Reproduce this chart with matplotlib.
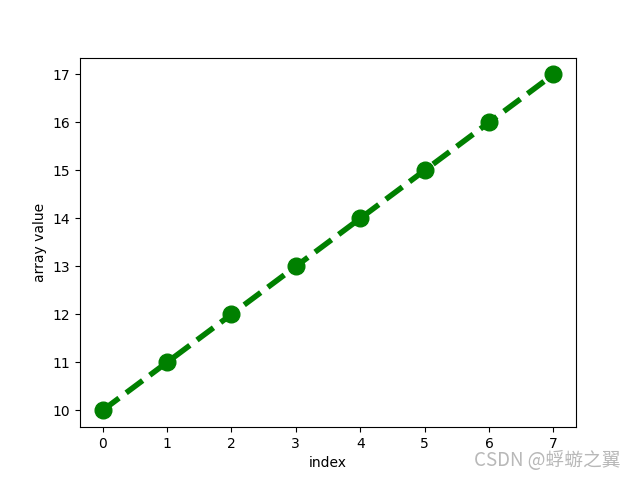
import matplotlib
matplotlib.use('Agg')
import matplotlib.pyplot as plt

index = [0, 1, 2, 3, 4, 5, 6, 7]
values = [10, 11, 12, 13, 14, 15, 16, 17]

fig = plt.figure(figsize=(6.4, 4.8), dpi=100)
plt.plot(index, values, color='green', linestyle='--', linewidth=4,
         marker='o', markersize=12)
plt.xlabel('index')
plt.ylabel('array value')

# watermark
fig.text(0.97, 0.04, 'CSDN @蜉蝣之翼', ha='right', va='center', fontsize=13.5,
         color='#b8b8b8', family=['Noto Sans CJK SC', 'DejaVu Sans'])

plt.savefig('out.png')
